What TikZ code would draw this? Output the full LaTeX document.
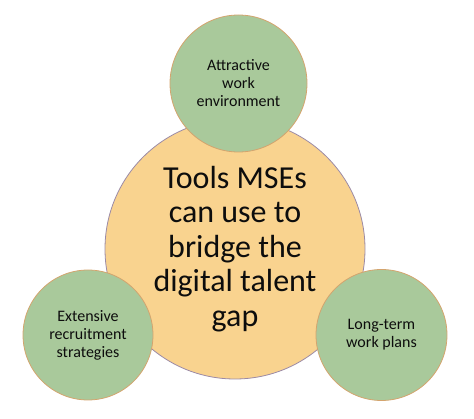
\documentclass[tikz,border=0pt]{standalone}
\usepackage{fontspec}
\setmainfont{Carlito}
\definecolor{gfill}{HTML}{A9C99B}
\definecolor{gline}{HTML}{D4A46E}
\definecolor{ofill}{HTML}{F9D38F}
\definecolor{oline}{HTML}{9B8AA6}
\definecolor{txt}{HTML}{0D0D0D}
\begin{document}
\begin{tikzpicture}[x=1pt,y=-1pt,
  big/.style={circle,draw=oline,fill=ofill,line width=0.8pt,minimum size=260pt,inner sep=0pt,
    align=center,font=\fontsize{32}{34.5}\selectfont,text=txt},
  small/.style={circle,draw=gline,fill=gfill,line width=0.8pt,inner sep=0pt,
    align=center,font=\fontsize{16}{18}\selectfont,text=txt}]
\useasboundingbox (0,0) rectangle (474,419);
\node[big] (c) at (235,249) {Tools MSEs\\can use to\\bridge the\\digital talent\\gap};
\node[small,minimum size=137pt] (t) at (238.5,83.5) {Attractive\\work\\environment};
\node[small,minimum size=130pt] (l) at (88,335) {Extensive\\recruitment\\strategies};
\node[small,minimum size=131pt] (r) at (381.5,335) {Long-term\\work plans};
\end{tikzpicture}
\end{document}
